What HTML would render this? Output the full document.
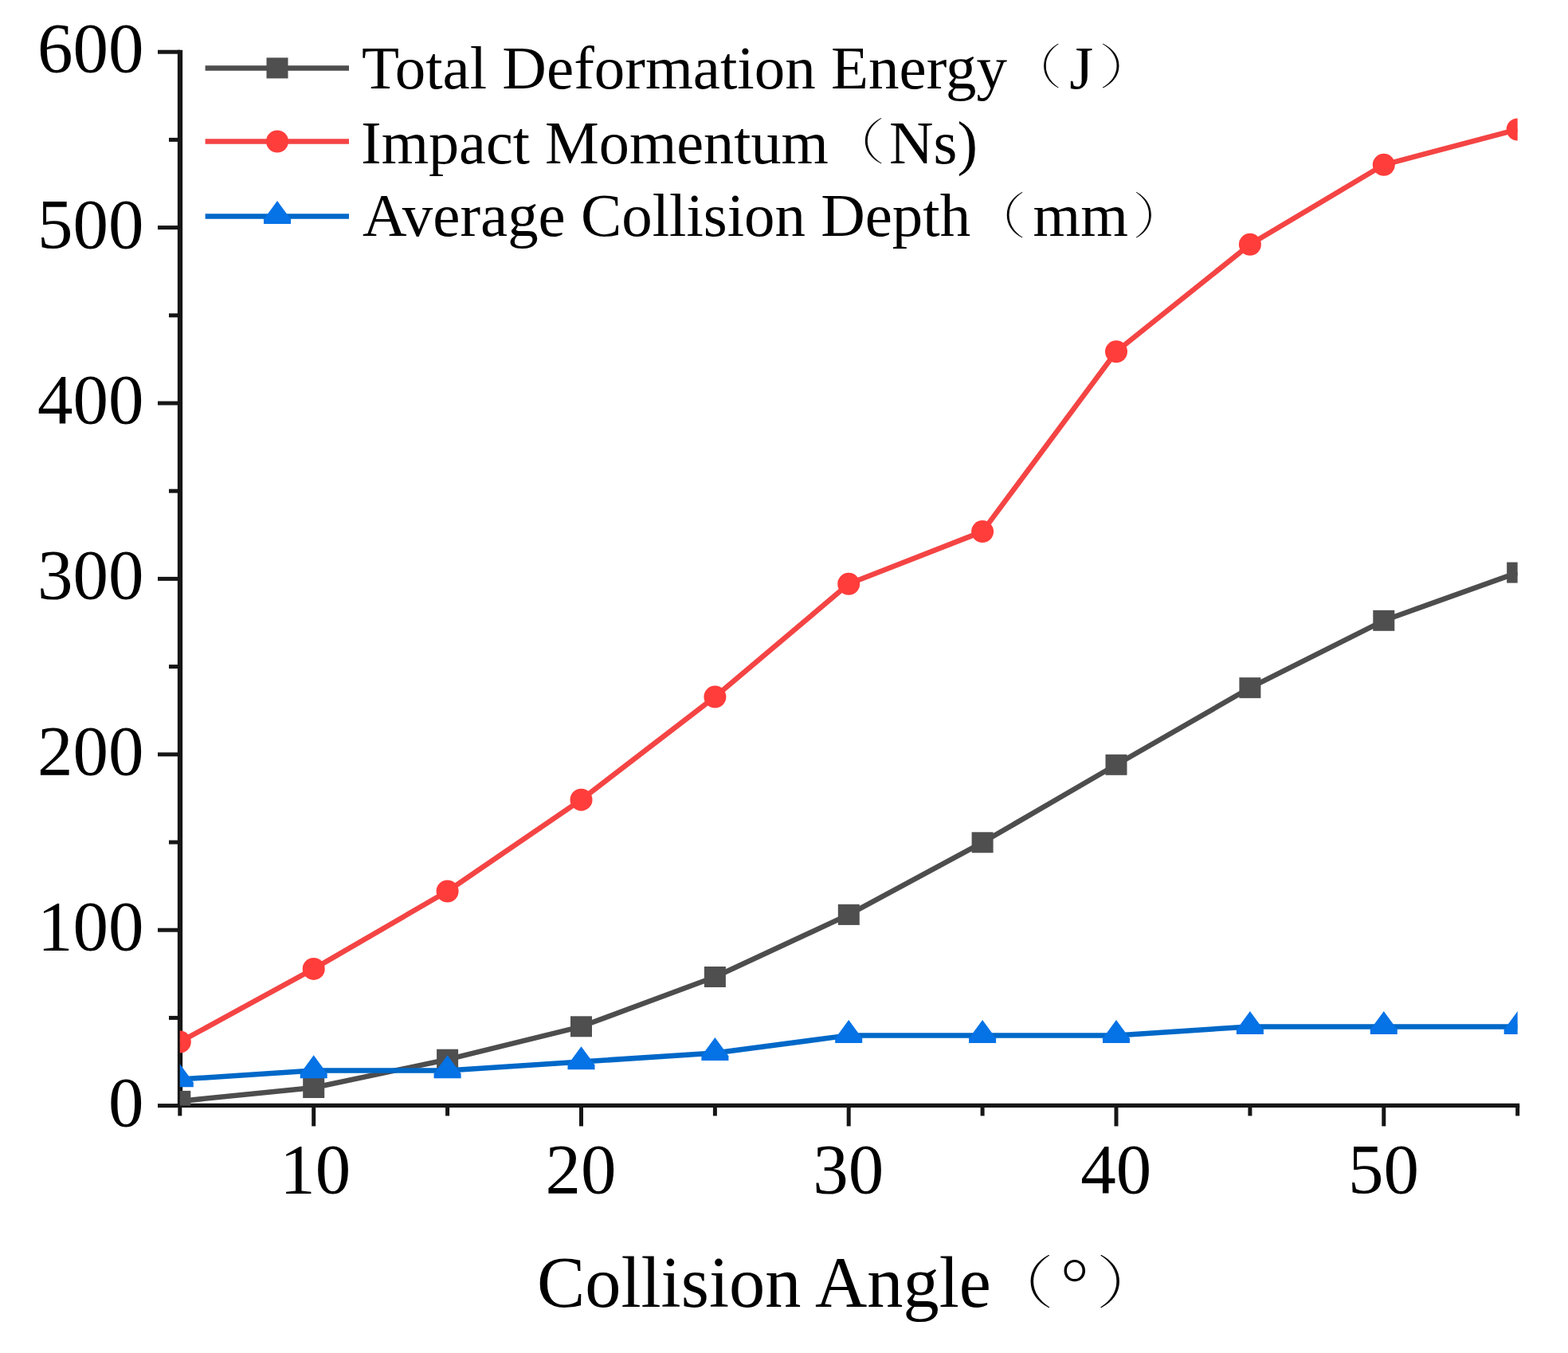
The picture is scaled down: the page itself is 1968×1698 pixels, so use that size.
<!DOCTYPE html>
<html><head><meta charset="utf-8"><title>Collision Angle chart</title>
<style>
html,body{margin:0;padding:0;background:#fff;}
body{width:1968px;height:1698px;overflow:hidden;}
svg{display:block;}
.wrap{width:1968px;height:1698px;}
.t{font-family:"Liberation Serif","Noto Serif CJK SC",serif;fill:#000;}
.p{font-family:"Noto Serif CJK SC","Liberation Serif",serif;font-weight:200;fill:#000;}
.pp{stroke:#fff;stroke-width:0.9px;}
</style></head><body>
<div class="wrap"><svg width="1968" height="1698" viewBox="0 0 1968 1698">
<defs><clipPath id="pc"><rect x="225.8" y="0" width="1678.9" height="1387.6"/></clipPath></defs>
<rect width="1968" height="1698" fill="#fff"/>
<line x1="198.0" y1="1387.6" x2="226.0" y2="1387.6" stroke="#161616" stroke-width="5.0"/>
<line x1="212.0" y1="1277.4" x2="226.0" y2="1277.4" stroke="#161616" stroke-width="5.0"/>
<line x1="198.0" y1="1167.2" x2="226.0" y2="1167.2" stroke="#161616" stroke-width="5.0"/>
<line x1="212.0" y1="1057.0" x2="226.0" y2="1057.0" stroke="#161616" stroke-width="5.0"/>
<line x1="198.0" y1="946.8" x2="226.0" y2="946.8" stroke="#161616" stroke-width="5.0"/>
<line x1="212.0" y1="836.6" x2="226.0" y2="836.6" stroke="#161616" stroke-width="5.0"/>
<line x1="198.0" y1="726.4" x2="226.0" y2="726.4" stroke="#161616" stroke-width="5.0"/>
<line x1="212.0" y1="616.2" x2="226.0" y2="616.2" stroke="#161616" stroke-width="5.0"/>
<line x1="198.0" y1="506.0" x2="226.0" y2="506.0" stroke="#161616" stroke-width="5.0"/>
<line x1="212.0" y1="395.8" x2="226.0" y2="395.8" stroke="#161616" stroke-width="5.0"/>
<line x1="198.0" y1="285.6" x2="226.0" y2="285.6" stroke="#161616" stroke-width="5.0"/>
<line x1="212.0" y1="175.4" x2="226.0" y2="175.4" stroke="#161616" stroke-width="5.0"/>
<line x1="198.0" y1="65.2" x2="226.0" y2="65.2" stroke="#161616" stroke-width="5.0"/>
<line x1="225.8" y1="1387.4" x2="225.8" y2="1400.4" stroke="#161616" stroke-width="5.0"/>
<line x1="393.7" y1="1387.4" x2="393.7" y2="1413.4" stroke="#161616" stroke-width="5.0"/>
<line x1="561.6" y1="1387.4" x2="561.6" y2="1400.4" stroke="#161616" stroke-width="5.0"/>
<line x1="729.5" y1="1387.4" x2="729.5" y2="1413.4" stroke="#161616" stroke-width="5.0"/>
<line x1="897.4" y1="1387.4" x2="897.4" y2="1400.4" stroke="#161616" stroke-width="5.0"/>
<line x1="1065.2" y1="1387.4" x2="1065.2" y2="1413.4" stroke="#161616" stroke-width="5.0"/>
<line x1="1233.1" y1="1387.4" x2="1233.1" y2="1400.4" stroke="#161616" stroke-width="5.0"/>
<line x1="1401.0" y1="1387.4" x2="1401.0" y2="1413.4" stroke="#161616" stroke-width="5.0"/>
<line x1="1568.9" y1="1387.4" x2="1568.9" y2="1400.4" stroke="#161616" stroke-width="5.0"/>
<line x1="1736.8" y1="1387.4" x2="1736.8" y2="1413.4" stroke="#161616" stroke-width="5.0"/>
<line x1="1904.7" y1="1387.4" x2="1904.7" y2="1400.4" stroke="#161616" stroke-width="5.0"/>
<line x1="226.0" y1="62.7" x2="226.0" y2="1390.1" stroke="#161616" stroke-width="6.3"/>
<line x1="222.8" y1="1387.4" x2="1907.2" y2="1387.4" stroke="#161616" stroke-width="5.4"/>
<g clip-path="url(#pc)">
<polyline points="225.8,1381.9 393.7,1365.0 561.6,1329.7 729.5,1288.3 897.4,1226.0 1065.2,1147.9 1233.1,1057.3 1401.0,959.8 1568.9,863.2 1736.8,778.8 1904.7,718.6" fill="none" stroke="#4d4d4d" stroke-width="6.5" stroke-linejoin="round"/>
<rect x="212.3" y="1368.9" width="27.0" height="26.0" fill="#4f4f4f"/>
<rect x="380.2" y="1352.0" width="27.0" height="26.0" fill="#4f4f4f"/>
<rect x="548.1" y="1316.7" width="27.0" height="26.0" fill="#4f4f4f"/>
<rect x="716.0" y="1275.3" width="27.0" height="26.0" fill="#4f4f4f"/>
<rect x="883.9" y="1213.0" width="27.0" height="26.0" fill="#4f4f4f"/>
<rect x="1051.8" y="1134.9" width="27.0" height="26.0" fill="#4f4f4f"/>
<rect x="1219.6" y="1044.3" width="27.0" height="26.0" fill="#4f4f4f"/>
<rect x="1387.5" y="946.8" width="27.0" height="26.0" fill="#4f4f4f"/>
<rect x="1555.4" y="850.2" width="27.0" height="26.0" fill="#4f4f4f"/>
<rect x="1723.3" y="765.8" width="27.0" height="26.0" fill="#4f4f4f"/>
<rect x="1891.2" y="705.6" width="27.0" height="26.0" fill="#4f4f4f"/>
<polyline points="225.8,1307.6 393.7,1215.9 561.6,1118.5 729.5,1003.7 897.4,874.6 1065.2,732.8 1233.1,667.1 1401.0,441.3 1568.9,306.8 1736.8,206.8 1904.7,162.5" fill="none" stroke="#f44444" stroke-width="6.5" stroke-linejoin="round"/>
<circle cx="225.8" cy="1307.6" r="14.0" fill="#ff3d3b"/>
<circle cx="393.7" cy="1215.9" r="14.0" fill="#ff3d3b"/>
<circle cx="561.6" cy="1118.5" r="14.0" fill="#ff3d3b"/>
<circle cx="729.5" cy="1003.7" r="14.0" fill="#ff3d3b"/>
<circle cx="897.4" cy="874.6" r="14.0" fill="#ff3d3b"/>
<circle cx="1065.2" cy="732.8" r="14.0" fill="#ff3d3b"/>
<circle cx="1233.1" cy="667.1" r="14.0" fill="#ff3d3b"/>
<circle cx="1401.0" cy="441.3" r="14.0" fill="#ff3d3b"/>
<circle cx="1568.9" cy="306.8" r="14.0" fill="#ff3d3b"/>
<circle cx="1736.8" cy="206.8" r="14.0" fill="#ff3d3b"/>
<circle cx="1904.7" cy="162.5" r="14.0" fill="#ff3d3b"/>
<polyline points="225.8,1354.5 393.7,1343.5 561.6,1343.5 729.5,1332.5 897.4,1321.5 1065.2,1299.4 1233.1,1299.4 1401.0,1299.4 1568.9,1288.4 1736.8,1288.4 1904.7,1288.4" fill="none" stroke="#0068c8" stroke-width="6.5" stroke-linejoin="round"/>
<polygon points="225.8,1335.2 242.8,1358.4 242.8,1364.2 208.8,1364.2 208.8,1358.4" fill="#0572e6"/>
<polygon points="393.7,1324.2 410.7,1347.4 410.7,1353.2 376.7,1353.2 376.7,1347.4" fill="#0572e6"/>
<polygon points="561.6,1324.2 578.6,1347.4 578.6,1353.2 544.6,1353.2 544.6,1347.4" fill="#0572e6"/>
<polygon points="729.5,1313.2 746.5,1336.4 746.5,1342.2 712.5,1342.2 712.5,1336.4" fill="#0572e6"/>
<polygon points="897.4,1302.1 914.4,1325.3 914.4,1331.1 880.4,1331.1 880.4,1325.3" fill="#0572e6"/>
<polygon points="1065.2,1280.1 1082.2,1303.3 1082.2,1309.1 1048.2,1309.1 1048.2,1303.3" fill="#0572e6"/>
<polygon points="1233.1,1280.1 1250.1,1303.3 1250.1,1309.1 1216.1,1309.1 1216.1,1303.3" fill="#0572e6"/>
<polygon points="1401.0,1280.1 1418.0,1303.3 1418.0,1309.1 1384.0,1309.1 1384.0,1303.3" fill="#0572e6"/>
<polygon points="1568.9,1269.1 1585.9,1292.3 1585.9,1298.1 1551.9,1298.1 1551.9,1292.3" fill="#0572e6"/>
<polygon points="1736.8,1269.1 1753.8,1292.3 1753.8,1298.1 1719.8,1298.1 1719.8,1292.3" fill="#0572e6"/>
<polygon points="1904.7,1269.1 1921.7,1292.3 1921.7,1298.1 1887.7,1298.1 1887.7,1292.3" fill="#0572e6"/>
</g>
<line x1="257.6" y1="85.4" x2="438.0" y2="85.4" stroke="#4d4d4d" stroke-width="6.5"/>
<rect x="334.5" y="72.4" width="27.0" height="26.0" fill="#4f4f4f"/>
<line x1="257.6" y1="177.5" x2="438.0" y2="177.5" stroke="#f44444" stroke-width="6.5"/>
<circle cx="348.0" cy="177.5" r="14.0" fill="#ff3d3b"/>
<line x1="257.6" y1="271.4" x2="438.0" y2="271.4" stroke="#0068c8" stroke-width="6.5"/>
<polygon points="348.0,252.1 365.0,275.3 365.0,281.1 331.0,281.1 331.0,275.3" fill="#0572e6"/>
<text x="180.50" y="1412.60" class="t" font-size="89.00" text-anchor="end">0</text>
<text x="180.50" y="1192.20" class="t" font-size="89.00" text-anchor="end">100</text>
<text x="180.50" y="971.80" class="t" font-size="89.00" text-anchor="end">200</text>
<text x="180.50" y="751.40" class="t" font-size="89.00" text-anchor="end">300</text>
<text x="180.50" y="531.00" class="t" font-size="89.00" text-anchor="end">400</text>
<text x="180.50" y="310.60" class="t" font-size="89.00" text-anchor="end">500</text>
<text x="180.50" y="90.20" class="t" font-size="89.00" text-anchor="end">600</text>
<text x="395.69" y="1497.20" class="t" font-size="89.00" text-anchor="middle">10</text>
<text x="729.07" y="1497.20" class="t" font-size="89.00" text-anchor="middle">20</text>
<text x="1064.85" y="1497.20" class="t" font-size="89.00" text-anchor="middle">30</text>
<text x="1400.63" y="1497.20" class="t" font-size="89.00" text-anchor="middle">40</text>
<text x="1736.41" y="1497.20" class="t" font-size="89.00" text-anchor="middle">50</text>
<text x="454.00" y="111.30" class="t" font-size="76.80" text-anchor="start" transform="translate(454.00 111.30) scale(1.0027 1) translate(-454.00 -111.30)">Total Deformation Energy</text>
<text x="453.30" y="204.60" class="t" font-size="76.80" text-anchor="start" transform="translate(453.30 204.60) scale(0.9929 1) translate(-453.30 -204.60)">Impact Momentum</text>
<text x="455.00" y="295.70" class="t" font-size="76.80" text-anchor="start" transform="translate(455.00 295.70) scale(1.0015 1) translate(-455.00 -295.70)">Average Collision Depth</text>
<text x="1263.57" y="106.09" class="p pp" font-size="61.18" text-anchor="start" transform="translate(1263.57 106.09) scale(1.1499 1) translate(-1263.57 -106.09)">（</text>
<text x="1342.36" y="111.00" class="t" font-size="76.80" text-anchor="start">J</text>
<text x="1377.90" y="106.09" class="p pp" font-size="61.18" text-anchor="start" transform="translate(1377.90 106.09) scale(1.2842 1) translate(-1377.90 -106.09)">）</text>
<text x="1033.83" y="199.64" class="p pp" font-size="62.90" text-anchor="start" transform="translate(1033.83 199.64) scale(1.2491 1) translate(-1033.83 -199.64)">（</text>
<text x="1116.05" y="204.60" class="t" font-size="76.80" text-anchor="start">Ns)</text>
<text x="1213.95" y="293.13" class="p pp" font-size="63.01" text-anchor="start" transform="translate(1213.95 293.13) scale(1.1903 1) translate(-1213.95 -293.13)">（</text>
<text x="1296.43" y="295.70" class="t" font-size="76.80" text-anchor="start">mm</text>
<text x="1420.55" y="293.13" class="p pp" font-size="63.01" text-anchor="start" transform="translate(1420.55 293.13) scale(1.1449 1) translate(-1420.55 -293.13)">）</text>
<text x="673.90" y="1639.80" class="t" font-size="90.40" text-anchor="start">Collision Angle</text>
<text x="1234.56" y="1635.55" class="p pp" font-size="72.80" text-anchor="start" transform="translate(1234.56 1635.55) scale(1.2265 1) translate(-1234.56 -1635.55)">（</text>
<text x="1331.35" y="1657.65" class="p" font-size="103.85" text-anchor="start">°</text>
<text x="1374.75" y="1635.55" class="p pp" font-size="72.80" text-anchor="start" transform="translate(1374.75 1635.55) scale(1.2265 1) translate(-1374.75 -1635.55)">）</text>
</svg></div>
</body></html>
